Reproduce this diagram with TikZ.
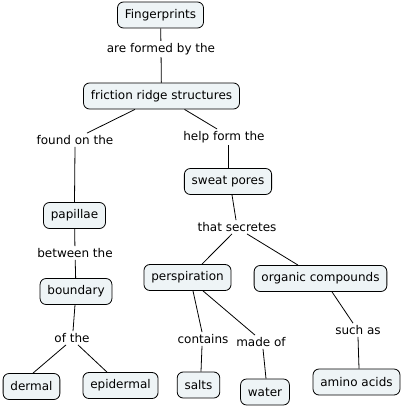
\documentclass[tikz,border=0pt]{standalone}
\usepackage{fontspec}
\setmainfont{DejaVu Sans}
\usetikzlibrary{calc}
\definecolor{boxfill}{HTML}{EEF4F6}
\begin{document}
\begin{tikzpicture}[x=0.75pt,y=-0.75pt,
  concept/.style={draw=black,fill=boxfill,rounded corners=4.5pt,line width=0.6pt,
    font=\fontsize{9}{11}\selectfont,inner xsep=5.5pt,minimum height=19.5pt},
  link/.style={font=\fontsize{9}{11}\selectfont,inner sep=1.5pt},
  conn/.style={draw=black,line width=0.6pt}]
\useasboundingbox (0,0) rectangle (406,406);
\node[concept] (fp) at (160.5,15) {Fingerprints};
\node[link] (l1) at (161,49) {are formed by the};
\node[concept] (frs) at (161.5,96) {friction ridge structures};
\node[link] (l2) at (75,140) {found on the};
\node[link] (l3) at (224,137) {help form the};
\node[concept] (sp) at (228,181.5) {sweat pores};
\node[concept] (pap) at (74.5,215.5) {papillae};
\node[link] (l4) at (75,253) {between the};
\node[link] (l5) at (237,227) {that secretes};
\node[concept] (bnd) at (76,291.5) {boundary};
\node[concept] (per) at (187.5,277.5) {perspiration};
\node[concept] (org) at (320.5,278.5) {organic compounds};
\node[link] (l6) at (72,338) {of the};
\node[link] (l7) at (203,339) {contains};
\node[link] (l8) at (261,342) {made of};
\node[link] (l9) at (358,330) {such as};
\node[concept] (der) at (31.5,386.5) {dermal};
\node[concept] (epi) at (120.5,385.5) {epidermal};
\node[concept] (sal) at (198.5,385) {salts};
\node[concept] (wat) at (265,392) {water};
\node[concept] (ami) at (356.5,382) {amino acids};
\draw[conn] (fp) -- (l1);
\draw[conn] (l1) -- (frs);
\draw[conn] ($(frs.south)+(-26.5,0)$) -- ($(l2.north)+(12,0)$);
\draw[conn] ($(frs.south)+(23,0)$) -- ($(l3.north)+(-7,0)$);
\draw[conn] ($(l2.south)+(0,0)$) -- (pap.north);
\draw[conn] ($(l3.south)+(4,0)$) -- (sp.north);
\draw[conn] (pap) -- (l4);
\draw[conn] (l4) -- (bnd);
\draw[conn] ($(sp.south)+(4,0)$) -- ($(l5.north)+(-1,0)$);
\draw[conn] ($(l5.south)+(-5,0)$) -- ($(per.north)+(14.5,0)$);
\draw[conn] ($(l5.south)+(10,0)$) -- ($(org.north)+(-22.5,0)$);
\draw[conn] ($(bnd.south)+(-1,0)$) -- ($(l6.north)+(1,0)$);
\draw[conn] ($(l6.south)+(-6,0)$) -- ($(der.north)+(1.5,0)$);
\draw[conn] ($(l6.south)+(6,0)$) -- ($(epi.north)+(-13.5,0)$);
\draw[conn] ($(per.south)+(5.5,0)$) -- ($(l7.north)+(-1,0)$);
\draw[conn] ($(l7.south)+(-1,0)$) -- ($(sal.north)+(2.5,0)$);
\draw[conn] ($(per.south)+(15.5,0)$) -- ($(l8.north)+(-6,0)$);
\draw[conn] ($(l8.south)+(2,0)$) -- ($(wat.north)+(1,0)$);
\draw[conn] ($(org.south)+(11.5,0)$) -- ($(l9.north)+(-5,0)$);
\draw[conn] (l9.south) -- ($(ami.north)+(2.5,0)$);
\end{tikzpicture}
\end{document}
